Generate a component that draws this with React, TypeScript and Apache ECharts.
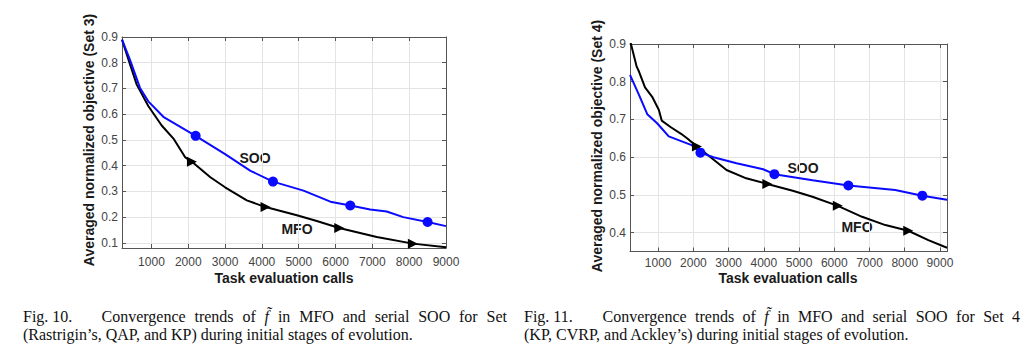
import React, { useEffect, useRef } from "react";
import * as echarts from "echarts";

// ---------- data ----------
const X_TICKS = [1000, 2000, 3000, 4000, 5000, 6000, 7000, 8000, 9000];
const Y_TICKS_SET3 = [0.1, 0.2, 0.3, 0.4, 0.5, 0.6, 0.7, 0.8, 0.9];
const Y_TICKS_SET4 = [0.4, 0.5, 0.6, 0.7, 0.8, 0.9];

// Set 3 (Fig. 10)
const set3SooX = [200, 417, 689, 914, 1322, 2200, 3000, 3690, 4300, 5130, 5860, 6400, 6940, 7390, 7840, 8500, 9000];
const set3SooY = [0.89, 0.811, 0.702, 0.65, 0.59, 0.516, 0.445, 0.38, 0.338, 0.303, 0.26, 0.245, 0.23, 0.222, 0.2, 0.181, 0.165];
const set3MfoX = [200, 450, 600, 914, 1278, 1610, 1920, 2100, 2600, 3000, 3590, 4100, 4950, 5490, 6100, 7120, 8100, 9000];
const set3MfoY = [0.89, 0.78, 0.715, 0.632, 0.556, 0.503, 0.432, 0.415, 0.355, 0.316, 0.265, 0.239, 0.207, 0.185, 0.158, 0.123, 0.097, 0.083];
const set3SooMarkX = [2200, 4300, 6400, 8500];
const set3SooMarkY = [0.516, 0.338, 0.245, 0.181];
const set3MfoMarkX = [2100, 4100, 6100, 8100];
const set3MfoMarkY = [0.415, 0.239, 0.158, 0.097];

// Set 4 (Fig. 11)
const set4SooX = [200, 455, 690, 970, 1300, 1950, 2200, 2570, 3225, 3980, 4300, 5385, 6400, 7730, 8500, 9200];
const set4SooY = [0.818, 0.765, 0.714, 0.69, 0.655, 0.632, 0.612, 0.6, 0.584, 0.568, 0.555, 0.539, 0.525, 0.513, 0.498, 0.487];
const set4MfoX = [200, 390, 455, 626, 830, 1020, 1100, 1350, 1650, 1820, 2100, 2470, 2940, 3500, 4100, 4820, 5380, 6100, 6790, 7450, 8100, 8670, 9200];
const set4MfoY = [0.91, 0.84, 0.827, 0.785, 0.76, 0.725, 0.697, 0.68, 0.662, 0.65, 0.628, 0.601, 0.566, 0.544, 0.529, 0.511, 0.495, 0.471, 0.442, 0.42, 0.405, 0.38, 0.36];
const set4SooMarkX = [2200, 4300, 6400, 8500];
const set4SooMarkY = [0.612, 0.555, 0.525, 0.498];
const set4MfoMarkX = [2100, 4100, 6100, 8100];
const set4MfoMarkY = [0.628, 0.529, 0.471, 0.405];

const F_TILDE = "f\u0303";
const CAPTION_10_L1 = ["Convergence", "trends", "of", F_TILDE, "in", "MFO", "and", "serial", "SOO", "for", "Set"];
const CAPTION_10_L2 = "(Rastrigin\u2019s, QAP, and KP) during initial stages of evolution.";
const CAPTION_11_L1 = ["Convergence", "trends", "of", F_TILDE, "in", "MFO", "and", "serial", "SOO", "for", "Set", "4"];
const CAPTION_11_L2 = "(KP, CVRP, and Ackley\u2019s) during initial stages of evolution.";

// ---------- styling ----------
const BLUE = "#0a0aff";
const AXIS = "#555555";
const GRIDC = "#e4e4e4";
const SANS = "'Liberation Sans', Arial, sans-serif";
const SERIF = "'Liberation Serif', 'Times New Roman', serif";
const CAP_SIZE = 16;

const zip = (xs: number[], ys: number[]) => xs.map((x, i) => [x, ys[i]]);

function measure(text: string, italic = false) {
  const c = document.createElement("canvas");
  const ctx = c.getContext("2d")!;
  ctx.font = `${italic ? "italic " : ""}${CAP_SIZE}px 'Liberation Serif'`;
  return ctx.measureText(text).width;
}

function justified(words: string[], x0: number, x1: number, y: number) {
  const widths = words.map((w) => measure(w, w === F_TILDE));
  const sum = widths.reduce((a, b) => a + b, 0);
  const gap = (x1 - x0 - sum) / (words.length - 1);
  let x = x0;
  return words.map((w, i) => {
    const el = {
      type: "text",
      x,
      y,
      style: {
        text: w,
        fontFamily: SERIF,
        fontSize: CAP_SIZE,
        fontStyle: w === F_TILDE ? "italic" : "normal",
        fill: "#111",
        align: "left",
        verticalAlign: "middle",
      },
    };
    x += widths[i] + gap;
    return el;
  });
}

function capText(text: string, x: number, y: number) {
  return {
    type: "text",
    x,
    y,
    style: { text, fontFamily: SERIF, fontSize: CAP_SIZE, fill: "#111", align: "left", verticalAlign: "middle" },
  };
}

function boldText(text: string, x: number, y: number, rotate = false) {
  return {
    type: "text",
    x,
    y,
    rotation: rotate ? Math.PI / 2 : 0,
    style: {
      text,
      fontFamily: SANS,
      fontSize: 14,
      fontWeight: "bold",
      fill: "#1a1a1a",
      align: "center",
      verticalAlign: "middle",
    },
  };
}

function xAxes(gridIndex: number, min: number, max: number, labelMargin: number) {
  return [
    {
      type: "value",
      gridIndex,
      min,
      max,
      position: "bottom",
      axisLine: { show: true, onZero: false, lineStyle: { color: AXIS, width: 1 } },
      axisTick: { show: true, inside: true, length: 4, customValues: X_TICKS, lineStyle: { color: AXIS } },
      axisLabel: {
        customValues: X_TICKS,
        color: "#444",
        fontSize: 12,
        fontFamily: SANS,
        margin: labelMargin,
        formatter: (v: number) => String(Math.round(v)),
      },
      splitLine: { show: true, lineStyle: { color: GRIDC, width: 1 } },
    },
    {
      type: "value",
      gridIndex,
      min,
      max,
      position: "top",
      axisLine: { show: true, onZero: false, lineStyle: { color: AXIS, width: 1 } },
      axisTick: { show: true, inside: true, length: 4, customValues: X_TICKS, lineStyle: { color: AXIS } },
      axisLabel: { show: false },
      splitLine: { show: false },
    },
  ];
}

function yAxes(gridIndex: number, min: number, max: number, ticks: number[]) {
  return [
    {
      type: "value",
      gridIndex,
      min,
      max,
      position: "left",
      axisLine: { show: true, onZero: false, lineStyle: { color: AXIS, width: 1 } },
      axisTick: { show: true, inside: true, length: 4, customValues: ticks, lineStyle: { color: AXIS } },
      axisLabel: {
        customValues: ticks,
        color: "#444",
        fontSize: 12,
        fontFamily: SANS,
        margin: 4,
        formatter: (v: number) => v.toFixed(1),
      },
      splitLine: { show: true, lineStyle: { color: GRIDC, width: 1 } },
    },
    {
      type: "value",
      gridIndex,
      min,
      max,
      position: "right",
      axisLine: { show: true, onZero: false, lineStyle: { color: AXIS, width: 1 } },
      axisTick: { show: true, inside: true, length: 4, customValues: ticks, lineStyle: { color: AXIS } },
      axisLabel: { show: false },
      splitLine: { show: false },
    },
  ];
}

function lineSeries(xIdx: number, yIdx: number, data: number[][], color: string, z: number) {
  return {
    type: "line",
    xAxisIndex: xIdx,
    yAxisIndex: yIdx,
    data,
    showSymbol: false,
    symbol: "none",
    smooth: false,
    clip: true,
    lineStyle: { color, width: 2 },
    z,
  };
}

function markerSeries(xIdx: number, yIdx: number, data: number[][], color: string, tri: boolean, z: number) {
  return {
    type: "scatter",
    xAxisIndex: xIdx,
    yAxisIndex: yIdx,
    data,
    symbol: tri ? "triangle" : "circle",
    symbolRotate: tri ? -90 : 0,
    symbolSize: 10,
    itemStyle: { color, opacity: 1 },
    z,
  };
}

export default function App() {
  const ref = useRef<HTMLDivElement>(null);
  useEffect(() => {
    if (!ref.current) return;
    const chart = echarts.init(ref.current, undefined, { renderer: "svg" });

    const graphic: any[] = [
      boldText("Averaged normalized objective (Set 3)", 89, 140, true),
      boldText("Task evaluation calls", 284, 278),
      boldText("SOO", 255, 158),
      boldText("MFO", 297, 229),
      boldText("Averaged normalized objective (Set 4)", 597, 146, true),
      boldText("Task evaluation calls", 788, 278),
      boldText("SOO", 803, 168),
      boldText("MFO", 857, 227),
      capText("Fig. 10.", 23, 316),
      ...justified(CAPTION_10_L1, 101.5, 507, 316),
      capText(CAPTION_10_L2, 23, 334),
      capText("Fig. 11.", 524, 316),
      ...justified(CAPTION_11_L1, 602.5, 1020, 316),
      capText(CAPTION_11_L2, 524, 334),
    ];

    chart.setOption({
      animation: false,
      backgroundColor: "#ffffff",
      grid: [
        { left: 122, top: 37, width: 324, height: 211, show: true, borderWidth: 0, backgroundColor: "#fff" },
        { left: 630, top: 44, width: 317, height: 207.5, show: true, borderWidth: 0, backgroundColor: "#fff" },
      ],
      xAxis: [...xAxes(0, 200, 9000, 8), ...xAxes(1, 200, 9200, 5)],
      yAxis: [...yAxes(0, 0.08, 0.9, Y_TICKS_SET3), ...yAxes(1, 0.35, 0.9, Y_TICKS_SET4)],
      series: [
        lineSeries(0, 0, zip(set3MfoX, set3MfoY), "#000000", 3),
        lineSeries(0, 0, zip(set3SooX, set3SooY), BLUE, 4),
        markerSeries(0, 0, zip(set3MfoMarkX, set3MfoMarkY), "#000000", true, 5),
        markerSeries(0, 0, zip(set3SooMarkX, set3SooMarkY), BLUE, false, 6),
        lineSeries(2, 2, zip(set4MfoX, set4MfoY), "#000000", 3),
        lineSeries(2, 2, zip(set4SooX, set4SooY), BLUE, 4),
        markerSeries(2, 2, zip(set4MfoMarkX, set4MfoMarkY), "#000000", true, 5),
        markerSeries(2, 2, zip(set4SooMarkX, set4SooMarkY), BLUE, false, 6),
      ],
      graphic,
    });
    return () => chart.dispose();
  }, []);
  return <div ref={ref} style={{ position: "absolute", left: 0, top: 0, width: 1030, height: 354 }} />;
}
